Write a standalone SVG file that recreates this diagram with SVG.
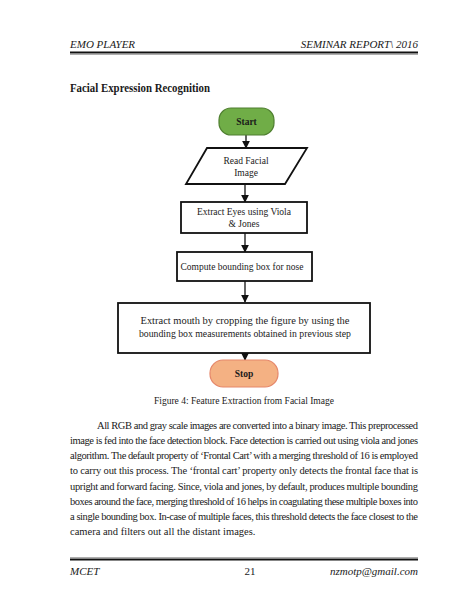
<svg xmlns="http://www.w3.org/2000/svg" width="474" height="613" viewBox="0 0 474 613">
<defs>
<style>
.serif{font-family:"Liberation Serif","Times New Roman",serif;fill:#1a1a1a}
.hdr{font-size:11px;font-style:italic}
.body{font-size:10.5px}
.node{font-size:9.5px;text-anchor:middle}
.bold{font-weight:bold}
.box{fill:#fff;stroke:#111;stroke-width:1.8}
.conn{stroke:#111;stroke-width:1.3;fill:none;marker-end:url(#arr)}
</style>
<marker id="arr" viewBox="0 0 10 10" refX="9" refY="5" markerWidth="8" markerHeight="8" markerUnits="userSpaceOnUse" orient="auto">
<path d="M0,0 L10,5 L0,10 z" fill="#111"/>
</marker>
</defs>
<rect width="474" height="613" fill="#fff"/>

<g id="header">
<text class="serif hdr" x="70" y="48">EMO PLAYER</text>
<text class="serif hdr" x="418" y="48" text-anchor="end">SEMINAR REPORT\ 2016</text>
<line x1="70" y1="52.5" x2="418" y2="52.5" stroke="#111" stroke-width="2"/>
<line x1="70" y1="54.5" x2="418" y2="54.5" stroke="#999" stroke-width="0.8"/>
</g>

<text class="serif bold" x="70" y="92" font-size="12" textLength="140" lengthAdjust="spacingAndGlyphs">Facial Expression Recognition</text>

<g id="connectors">
<line class="conn" x1="246" y1="135" x2="246" y2="148"/>
<line class="conn" x1="245" y1="184" x2="245" y2="202"/>
<line class="conn" x1="245" y1="233" x2="245" y2="252"/>
<line class="conn" x1="245" y1="281" x2="245" y2="302"/>
<line class="conn" x1="245" y1="353" x2="245" y2="360"/>
</g>

<g id="start">
<rect x="219" y="108" width="55" height="27" rx="12" fill="#70ad47" stroke="#4f7f30" stroke-width="1.2"/>
<text class="serif node bold" x="246.5" y="125" fill="#1d2e12">Start</text>
</g>

<g id="read">
<polygon class="box" points="207,148 307,148 285,184 186,184" stroke-width="1.4"/>
<text class="serif node" x="246" y="164">Read Facial</text>
<text class="serif node" x="246" y="176">Image</text>
</g>

<g id="eyes">
<rect class="box" x="181" y="202" width="126" height="31"/>
<text class="serif node" x="244" y="215">Extract Eyes using Viola</text>
<text class="serif node" x="244" y="227">&amp; Jones</text>
</g>

<g id="nose">
<rect class="box" x="177" y="252" width="135" height="29"/>
<text class="serif node" x="242" y="270">Compute bounding box for nose</text>
</g>

<g id="mouth">
<rect class="box" x="118" y="303" width="252" height="50" stroke-width="3"/>
<text class="serif node" x="245" y="324" textLength="209" lengthAdjust="spacingAndGlyphs">Extract mouth by cropping the figure by using the</text>
<text class="serif node" x="245" y="337" textLength="212" lengthAdjust="spacingAndGlyphs">bounding box measurements obtained in previous step</text>
</g>

<g id="stop">
<rect x="210" y="360" width="68" height="27" rx="13" fill="#f4b183" stroke="#e5876a" stroke-width="1.2"/>
<text class="serif node bold" x="244" y="377">Stop</text>
</g>

<text class="serif" x="244" y="404" font-size="9.5" text-anchor="middle">Figure 4: Feature Extraction from Facial Image</text>

<g id="paragraph" class="serif body">
<text x="97" y="429" textLength="321" lengthAdjust="spacing">All RGB and gray scale images are converted into a binary image. This preprocessed</text>
<text x="70" y="444" textLength="348" lengthAdjust="spacing">image is fed into the face detection block. Face detection is carried out using viola and jones</text>
<text x="70" y="459" textLength="348" lengthAdjust="spacing">algorithm. The default property of ‘Frontal Cart’ with a merging threshold of 16 is employed</text>
<text x="70" y="474" textLength="348" lengthAdjust="spacing">to carry out this process. The ‘frontal cart’ property only detects the frontal face that is</text>
<text x="70" y="490" textLength="348" lengthAdjust="spacing">upright and forward facing. Since, viola and jones, by default, produces multiple bounding</text>
<text x="70" y="505" textLength="348" lengthAdjust="spacing">boxes around the face, merging threshold of 16 helps in coagulating these multiple boxes into</text>
<text x="70" y="520" textLength="348" lengthAdjust="spacing">a single bounding box. In-case of multiple faces, this threshold detects the face closest to the</text>
<text x="70" y="535">camera and filters out all the distant images.</text>
</g>

<g id="footer">
<line x1="70" y1="557.5" x2="418" y2="557.5" stroke="#999" stroke-width="0.8"/>
<line x1="70" y1="559.5" x2="418" y2="559.5" stroke="#111" stroke-width="2"/>
<text class="serif hdr" x="70" y="575">MCET</text>
<text class="serif" x="250" y="575" font-size="11" text-anchor="middle">21</text>
<text class="serif hdr" x="418" y="575" text-anchor="end">nzmotp@gmail.com</text>
</g>
</svg>
